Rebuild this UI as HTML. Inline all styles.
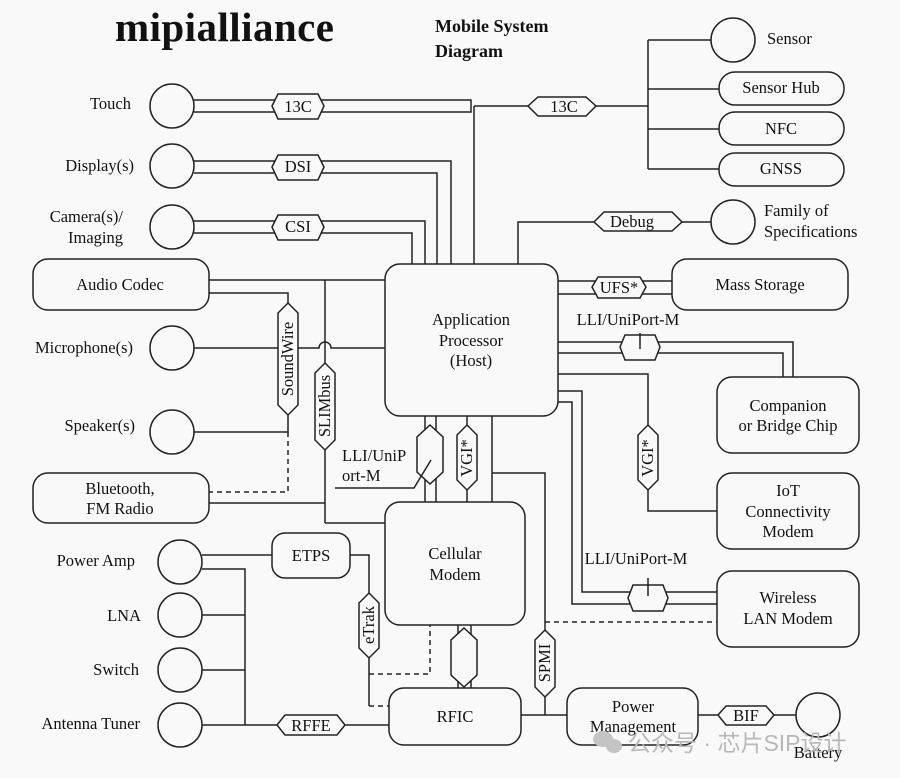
<!DOCTYPE html>
<html><head><meta charset="utf-8"><style>
html,body{margin:0;padding:0;background:#f9f9f9}
svg{display:block}
text{font-family:"Liberation Serif",serif;font-size:16.5px;fill:#111}
</style></head><body>
<svg width="900" height="778" viewBox="0 0 900 778" xmlns="http://www.w3.org/2000/svg">
<rect width="900" height="778" fill="#f9f9f9"/>
<g stroke="#222" stroke-width="1.5" fill="none">
<polyline points="194,100 471,100 471,112 194,112"/>
<line x1="474" y1="106" x2="474" y2="264"/>
<line x1="474" y1="106" x2="648" y2="106"/>
<line x1="648" y1="40" x2="648" y2="169"/>
<line x1="648" y1="40" x2="711" y2="40"/>
<line x1="648" y1="89" x2="719" y2="89"/>
<line x1="648" y1="129" x2="719" y2="129"/>
<line x1="648" y1="169" x2="719" y2="169"/>
<polyline points="194,161 451,161 451,264"/>
<polyline points="194,173 437,173 437,264"/>
<polyline points="194,221 425,221 425,264"/>
<polyline points="194,233 412,233 412,264"/>
<polyline points="518,264 518,222 711,222"/>
<line x1="558" y1="281" x2="672" y2="281"/>
<line x1="558" y1="294" x2="672" y2="294"/>
<polyline points="558,342 793,342 793,377"/>
<polyline points="558,353 783,353 783,377"/>
<polyline points="558,374 648,374 648,511 717,511"/>
<polyline points="558,391 582,391 582,592 717,592"/>
<polyline points="558,402 572,402 572,604 717,604"/>
<line x1="545" y1="622" x2="717" y2="622" stroke-dasharray="5,4"/>
<polyline points="492,416 492,502"/>
<polyline points="492,473 545,473 545,715"/>
<line x1="521" y1="715" x2="567" y2="715"/>
<line x1="425" y1="416" x2="425" y2="502"/>
<line x1="436" y1="416" x2="436" y2="502"/>
<line x1="467" y1="416" x2="467" y2="502"/>
<line x1="209" y1="280" x2="385" y2="280"/>
<polyline points="209,293 288,293 288,432 194,432"/>
<polyline points="288,432 288,492 209,492" stroke-dasharray="5,4"/>
<path d="M194,348 L319,348 A6,6 0 0 1 331,348 L385,348"/>
<line x1="325" y1="280" x2="325" y2="523"/>
<line x1="325" y1="523" x2="385" y2="523"/>
<line x1="209" y1="503" x2="325" y2="503"/>
<line x1="202" y1="555" x2="272" y2="555"/>
<polyline points="202,569 245,569 245,725"/>
<line x1="202" y1="615" x2="245" y2="615"/>
<line x1="202" y1="670" x2="245" y2="670"/>
<line x1="202" y1="725" x2="389" y2="725"/>
<polyline points="350,555 369,555 369,706"/>
<polyline points="369,706 389,706" stroke-dasharray="5,4"/>
<polyline points="369,674 430,674 430,625" stroke-dasharray="5,4"/>
<line x1="458" y1="625" x2="458" y2="688"/>
<line x1="471" y1="625" x2="471" y2="688"/>
<line x1="698" y1="715" x2="796" y2="715"/>
</g>
<g stroke="#222" stroke-width="1.5" fill="#f9f9f9">
<polygon points="272,106 278,94 318,94 324,106 318,119 278,119"/>
<polygon points="272,167 278,155 318,155 324,167 318,180 278,180"/>
<polygon points="272,227 278,215 318,215 324,227 318,240 278,240"/>
<polygon points="528,106 538,97 586,97 596,106 586,116 538,116"/>
<polygon points="594,222 604,212 672,212 682,222 672,231 604,231"/>
<polygon points="592,287 598,277 640,277 646,287 640,298 598,298"/>
<polygon points="620,347 625,335 655,335 660,347 655,360 625,360"/>
<polygon points="628,598 633,585 663,585 668,598 663,611 633,611"/>
<polygon points="648,425 658,435 658,480 648,490 638,480 638,435"/>
<polygon points="467,425 477,435 477,480 467,490 457,480 457,435"/>
<polygon points="430,425 443,437 443,472 430,484 417,472 417,437"/>
<polygon points="288,303 298,313 298,405 288,415 278,405 278,313"/>
<polygon points="325,363 335,373 335,440 325,450 315,440 315,373"/>
<polygon points="369,593 379,603 379,648 369,658 359,648 359,603"/>
<polygon points="464,628 477,640 477,675 464,687 451,675 451,640"/>
<polygon points="545,630 555,640 555,687 545,697 535,687 535,640"/>
<polygon points="277,725 285,715 337,715 345,725 337,735 285,735"/>
<polygon points="718,715 726,706 766,706 774,715 766,725 726,725"/>
<circle cx="172" cy="106" r="22"/><circle cx="172" cy="166" r="22"/><circle cx="172" cy="227" r="22"/>
<circle cx="172" cy="348" r="22"/><circle cx="172" cy="432" r="22"/>
<circle cx="180" cy="562" r="22"/><circle cx="180" cy="615" r="22"/><circle cx="180" cy="670" r="22"/><circle cx="180" cy="725" r="22"/>
<circle cx="733" cy="40" r="22"/><circle cx="733" cy="222" r="22"/><circle cx="818" cy="715" r="22"/>
<rect x="719" y="72" width="125" height="33" rx="16"/>
<rect x="719" y="112" width="125" height="33" rx="16"/>
<rect x="719" y="153" width="125" height="33" rx="16"/>
<rect x="385" y="264" width="173" height="152" rx="15"/>
<rect x="672" y="259" width="176" height="51" rx="15"/>
<rect x="717" y="377" width="142" height="76" rx="15"/>
<rect x="717" y="473" width="142" height="76" rx="15"/>
<rect x="717" y="571" width="142" height="76" rx="15"/>
<rect x="33" y="259" width="176" height="51" rx="15"/>
<rect x="33" y="473" width="176" height="50" rx="15"/>
<rect x="385" y="502" width="140" height="123" rx="15"/>
<rect x="272" y="533" width="78" height="45" rx="13"/>
<rect x="389" y="688" width="132" height="57" rx="15"/>
<rect x="567" y="688" width="131" height="57" rx="15"/>
</g>
<g stroke="#222" stroke-width="1.5" fill="none">
<line x1="640" y1="333" x2="640" y2="349"/>
<line x1="648" y1="578" x2="648" y2="596"/>
<polyline points="431,460 414,488 335,488"/>
</g>
<text x="115" y="41" style="font-size:41px;font-weight:bold" textLength="219">mipialliance</text>
<text x="435" y="32" style="font-size:18px;font-weight:bold">Mobile System</text>
<text x="435" y="57" style="font-size:18px;font-weight:bold">Diagram</text>
<g text-anchor="end">
<text x="131" y="109">Touch</text>
<text x="134" y="171">Display(s)</text>
<text x="123" y="222">Camera(s)/</text>
<text x="123" y="243">Imaging</text>
<text x="133" y="353">Microphone(s)</text>
<text x="135" y="431">Speaker(s)</text>
<text x="135" y="566">Power Amp</text>
<text x="141" y="621">LNA</text>
<text x="139" y="675">Switch</text>
<text x="140" y="729">Antenna Tuner</text>
</g>
<g text-anchor="middle">
<text x="298" y="112">13C</text>
<text x="298" y="172">DSI</text>
<text x="298" y="232">CSI</text>
<text x="564" y="112">13C</text>
<text x="632" y="227">Debug</text>
<text x="619" y="293">UFS*</text>
<text x="628" y="325">LLI/UniPort-M</text>
<text x="636" y="564">LLI/UniPort-M</text>
<text x="311" y="731">RFFE</text>
<text x="746" y="721">BIF</text>
<text x="781" y="93">Sensor Hub</text>
<text x="781" y="134">NFC</text>
<text x="781" y="174">GNSS</text>
<text x="471" y="325">Application</text>
<text x="471" y="346">Processor</text>
<text x="471" y="366">(Host)</text>
<text x="760" y="290">Mass Storage</text>
<text x="788" y="411">Companion</text>
<text x="788" y="431">or Bridge Chip</text>
<text x="788" y="496">IoT</text>
<text x="788" y="517">Connectivity</text>
<text x="788" y="537">Modem</text>
<text x="788" y="603">Wireless</text>
<text x="788" y="624">LAN Modem</text>
<text x="120" y="290">Audio Codec</text>
<text x="120" y="494">Bluetooth,</text>
<text x="120" y="514">FM Radio</text>
<text x="455" y="559">Cellular</text>
<text x="455" y="580">Modem</text>
<text x="311" y="561">ETPS</text>
<text x="455" y="722">RFIC</text>
<text x="633" y="712">Power</text>
<text x="633" y="732">Management</text>
<text x="818" y="758">Battery</text>
</g>
<text x="767" y="44">Sensor</text>
<text x="764" y="216">Family of</text>
<text x="764" y="237">Specifications</text>
<text x="342" y="461">LLI/UniP</text>
<text x="342" y="481">ort-M</text>
<g text-anchor="middle">
<text transform="translate(293,359) rotate(-90)">SoundWire</text>
<text transform="translate(330,406) rotate(-90)">SLIMbus</text>
<text transform="translate(472,458) rotate(-90)">VGI*</text>
<text transform="translate(653,458) rotate(-90)">VGI*</text>
<text transform="translate(374,625) rotate(-90)">eTrak</text>
<text transform="translate(550,663) rotate(-90)">SPMI</text>
</g>
<g fill="#c4c4c4"><ellipse cx="603" cy="739" rx="10" ry="8"/><ellipse cx="614" cy="746" rx="8" ry="7"/></g>
<text x="628" y="751" style="font-family:'Liberation Sans','Noto Sans CJK SC',sans-serif;font-size:23px;fill:#b8b8b8">公众号 · 芯片SIP设计</text>
</svg>
</body></html>
